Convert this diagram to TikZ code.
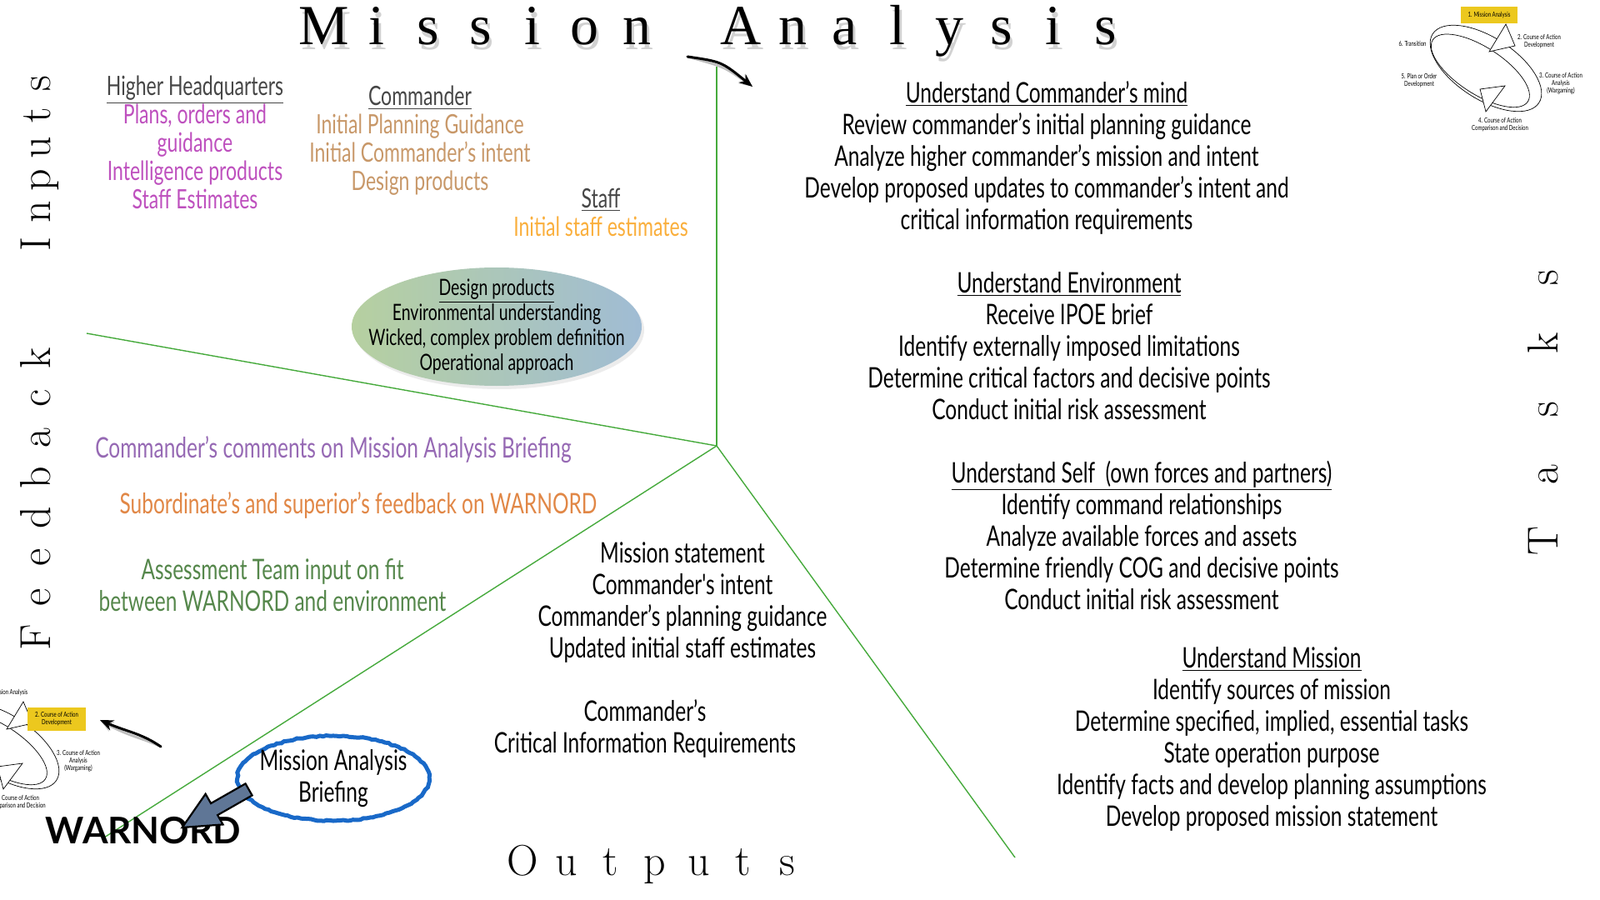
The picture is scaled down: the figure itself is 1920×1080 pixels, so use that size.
\documentclass[tikz,border=0pt]{standalone}
\usepackage{fontspec}
\newfontfamily\condfont{Lato}[FakeStretch=0.72]
\newfontfamily\boldsans{Lato}
\newfontfamily\titlefont{Liberation Serif}
\usetikzlibrary{positioning,shapes.geometric,shapes.arrows,shadows,decorations.pathmorphing,arrows.meta}

\definecolor{linegreen}{RGB}{70,170,60}
\definecolor{hqpurple}{RGB}{190,80,190}
\definecolor{cdrtan}{RGB}{200,152,105}
\definecolor{stafforange}{RGB}{250,175,60}
\definecolor{fbpurple}{RGB}{150,105,180}
\definecolor{fborange}{RGB}{225,135,70}
\definecolor{fbgreen}{RGB}{85,135,75}
\definecolor{headgray}{RGB}{70,70,70}
\definecolor{dpgreen}{RGB}{182,208,160}
\definecolor{dpblue}{RGB}{160,188,212}
\definecolor{briefblue}{RGB}{25,105,200}
\definecolor{arrowslate}{RGB}{95,118,150}
\definecolor{cyyellow}{RGB}{236,200,30}

\tikzset{
  pics/cycleimg/.style 2 args={code={
    \draw[line width=0.35pt, rotate=-33] (0,0) ellipse [x radius=76, y radius=37];
    \draw[line width=0.35pt, rotate=-33] (-4,6) ellipse [x radius=68, y radius=28];
    \draw[line width=0.35pt, fill=white] (24,-53) -- (35,-27) -- (4,-20) -- cycle;
    \draw[line width=0.35pt, fill=white] (-7,25) -- (0,52) -- (23,21) -- cycle;
    \node (-l1) [cylbl, #1] at (4,-64) {1. Mission Analysis};
    \node (-l2) [cylbl, #2] at (64,-32) {2. Course of Action\\Development};
    \node (-l3) [cylbl] at (90,18) {3. Course of Action\\Analysis\\(Wargaming)};
    \node (-l4) [cylbl] at (17,68) {4. Course of Action\\Comparison and Decision};
    \node (-l5) [cylbl] at (-80,15) {5. Plan or Order\\Development};
    \node (-l6) [cylbl] at (-88,-30) {6. Transition};
  }}
}

\begin{document}
\begin{tikzpicture}
  [x=0.5pt, y=-0.5pt,
  txt/.style={align=center, inner sep=0pt, font=\condfont\fontsize{17}{19}\selectfont},
  intxt/.style={txt, font=\condfont\fontsize{16}{17}\selectfont},
  dptxt/.style={txt, font=\condfont\fontsize{13.5}{15}\selectfont},
  bigletter/.style={anchor=base, inner sep=0pt, font=\fontsize{26}{26}\selectfont},
  titleletter/.style={anchor=base, inner sep=0pt, font=\titlefont\fontsize{34}{34}\selectfont},
  spoke/.style={linegreen, line width=0.7pt},
  sketch/.style={line width=1.5pt, line cap=round, -{Stealth[length=8pt,width=6.5pt]}},
  cylbl/.style={align=center, inner sep=1pt, font=\condfont\fontsize{4.2}{4.6}\selectfont},
  hilite/.style={fill=cyyellow, inner xsep=4.5pt, inner ysep=3pt},
  plain/.style={}]
  \path[use as bounding box, fill=white] (0,0) rectangle (1920,1080);

  % spokes
  \coordinate (hub) at (860,535);
  \coordinate (topend) at (860,80);
  \coordinate (leftend) at (104,400);
  \coordinate (lowleft) at (125,1005);
  \coordinate (lowright) at (1218,1029);
  \draw[spoke] (hub) -- (topend);
  \draw[spoke] (hub) -- (leftend);
  \draw[spoke] (hub) -- (lowleft);
  \draw[spoke] (hub) -- (lowright);

  % title
  \foreach \ch [count=\k from 0] in {M,i,s,s,i,o,n} {
    \node (tsh\k) [titleletter, text=black!18] at ({392+62.5*\k}, 60) {\ch};
    \node (ttl\k) [titleletter] at ({389+62.5*\k}, 54) {\ch};
  }
  \foreach \ch [count=\k from 8] in {A,n,a,l,y,s,i,s} {
    \node (tsh\k) [titleletter, text=black!18] at ({392+62.5*\k}, 60) {\ch};
    \node (ttl\k) [titleletter] at ({389+62.5*\k}, 54) {\ch};
  }

  % side words
  \foreach \ch [count=\k from 0] in {I,n,p,u,t,s}
    \node (inp\k) [bigletter, rotate=90] at (60, {293-38.6*\k}) {\ch};
  \foreach \ch [count=\k from 0] in {F,e,e,d,b,a,c,k}
    \node (fdb\k) [bigletter, rotate=90] at (60, {765-47.9*\k}) {\ch};
  \foreach \ch [count=\k from 0] in {T,a,s,k,s}
    \node (tsk\k) [bigletter, rotate=90] at (1869, {649-79*\k}) {\ch};
  \foreach \ch [count=\k from 0] in {O,u,t,p,u,t,s}
    \node (out\k) [bigletter] at ({627+53*\k}, 1050) {\ch};

  % inputs
  \node (hhq) [intxt, text=hqpurple] at (234,171) {{\color{headgray}\underline{Higher Headquarters}}\\Plans, orders and\\guidance\\Intelligence products\\Staff Estimates};
  \node (cdr) [intxt, text=cdrtan] at (504,169) {{\color{headgray}\underline{Commander}}\\Initial Planning Guidance\\Initial Commander’s intent\\Design products};
  \node (staff) [intxt, text=stafforange] at (721,255) {{\color{headgray}\underline{Staff}}\\Initial staff estimates};

  \node (dprod) [ellipse, left color=dpgreen, right color=dpblue, minimum width=174pt, minimum height=71pt,
    drop shadow={opacity=0.15, shadow xshift=1.5pt, shadow yshift=-2pt}] at (596,392) {};
  \node (dptext) [dptxt] at (dprod) {\underline{Design products}\\Environmental understanding\\Wicked, complex problem definition\\Operational approach};

  % feedback
  \node (fbcdr) [txt, text=fbpurple] at (400,540) {Commander’s comments on Mission Analysis Briefing};
  \node (fbsub) [txt, text=fborange] at (430,606) {Subordinate’s and superior’s feedback on WARNORD};
  \node (fbasm) [txt, text=fbgreen] at (327,702) {Assessment Team input on fit\\between WARNORD and environment};

  % outputs
  \node (outA) [txt] at (819,723) {Mission statement\\Commander's intent\\Commander’s planning guidance\\Updated initial staff estimates};
  \node (outB) [txt] at (774,874) {Commander’s\\Critical Information Requirements};

  % tasks
  \node (tskA) [txt] at (1256,189) {\underline{Understand Commander’s mind}\\Review commander’s initial planning guidance\\Analyze higher commander’s mission and intent\\Develop proposed updates to commander’s intent and\\critical information requirements};
  \node (tskB) [txt] at (1283,415) {\underline{Understand Environment}\\Receive IPOE brief\\Identify externally imposed limitations\\Determine critical factors and decisive points\\Conduct initial risk assessment};
  \node (tskC) [txt] at (1370,642) {\underline{Understand Self\ \ (own forces and partners)}\\Identify command relationships\\Analyze available forces and assets\\Determine friendly COG and decisive points\\Conduct initial risk assessment};
  \node (tskD) [txt] at (1526,887) {\underline{Understand Mission}\\Identify sources of mission\\Determine specified, implied, essential tasks\\State operation purpose\\Identify facts and develop planning assumptions\\Develop proposed mission statement};

  % cycle pictures
  \pic (cyA) at (1783,82) {cycleimg={hilite}{plain}};
  \pic (cyB) at (4,895) {cycleimg={plain}{hilite}};

  % hand drawn arrows
  \coordinate (skA) at (825,68);
  \coordinate (skB) at (903,104);
  \draw[sketch, black!25, shift={(3,6)}] (skA) .. controls (866,74) .. (skB);
  \draw[sketch] (skA) .. controls (866,74) .. (skB);
  \coordinate (skC) at (193,896);
  \coordinate (skD) at (120,864);
  \draw[sketch, black!25, shift={(3,6)}] (skC) .. controls (170,880) and (152,878) .. (skD);
  \draw[sketch] (skC) .. controls (170,880) and (152,878) .. (skD);

  % briefing and warnord
  \node (wrn) [anchor=base, inner sep=0pt, font=\boldsans\bfseries\fontsize{22}{22}\selectfont] at (172,1012) {WARNORD};
  \node (brief) [ellipse, draw=briefblue, line width=2.5pt, minimum width=115pt, minimum height=51pt,
    decorate, decoration={random steps, segment length=2pt, amplitude=0.4pt}] at (400,934) {};
  \node (brieftxt) [txt] at (brief) {Mission Analysis\\Briefing};
  \node (briefarrow) [single arrow, draw, fill=arrowslate, line width=1.1pt, inner sep=3.5pt,
    minimum height=46pt, single arrow head extend=6.5pt, single arrow tip angle=51, rotate=209.7] at (266,966) {};
\end{tikzpicture}
\end{document}
